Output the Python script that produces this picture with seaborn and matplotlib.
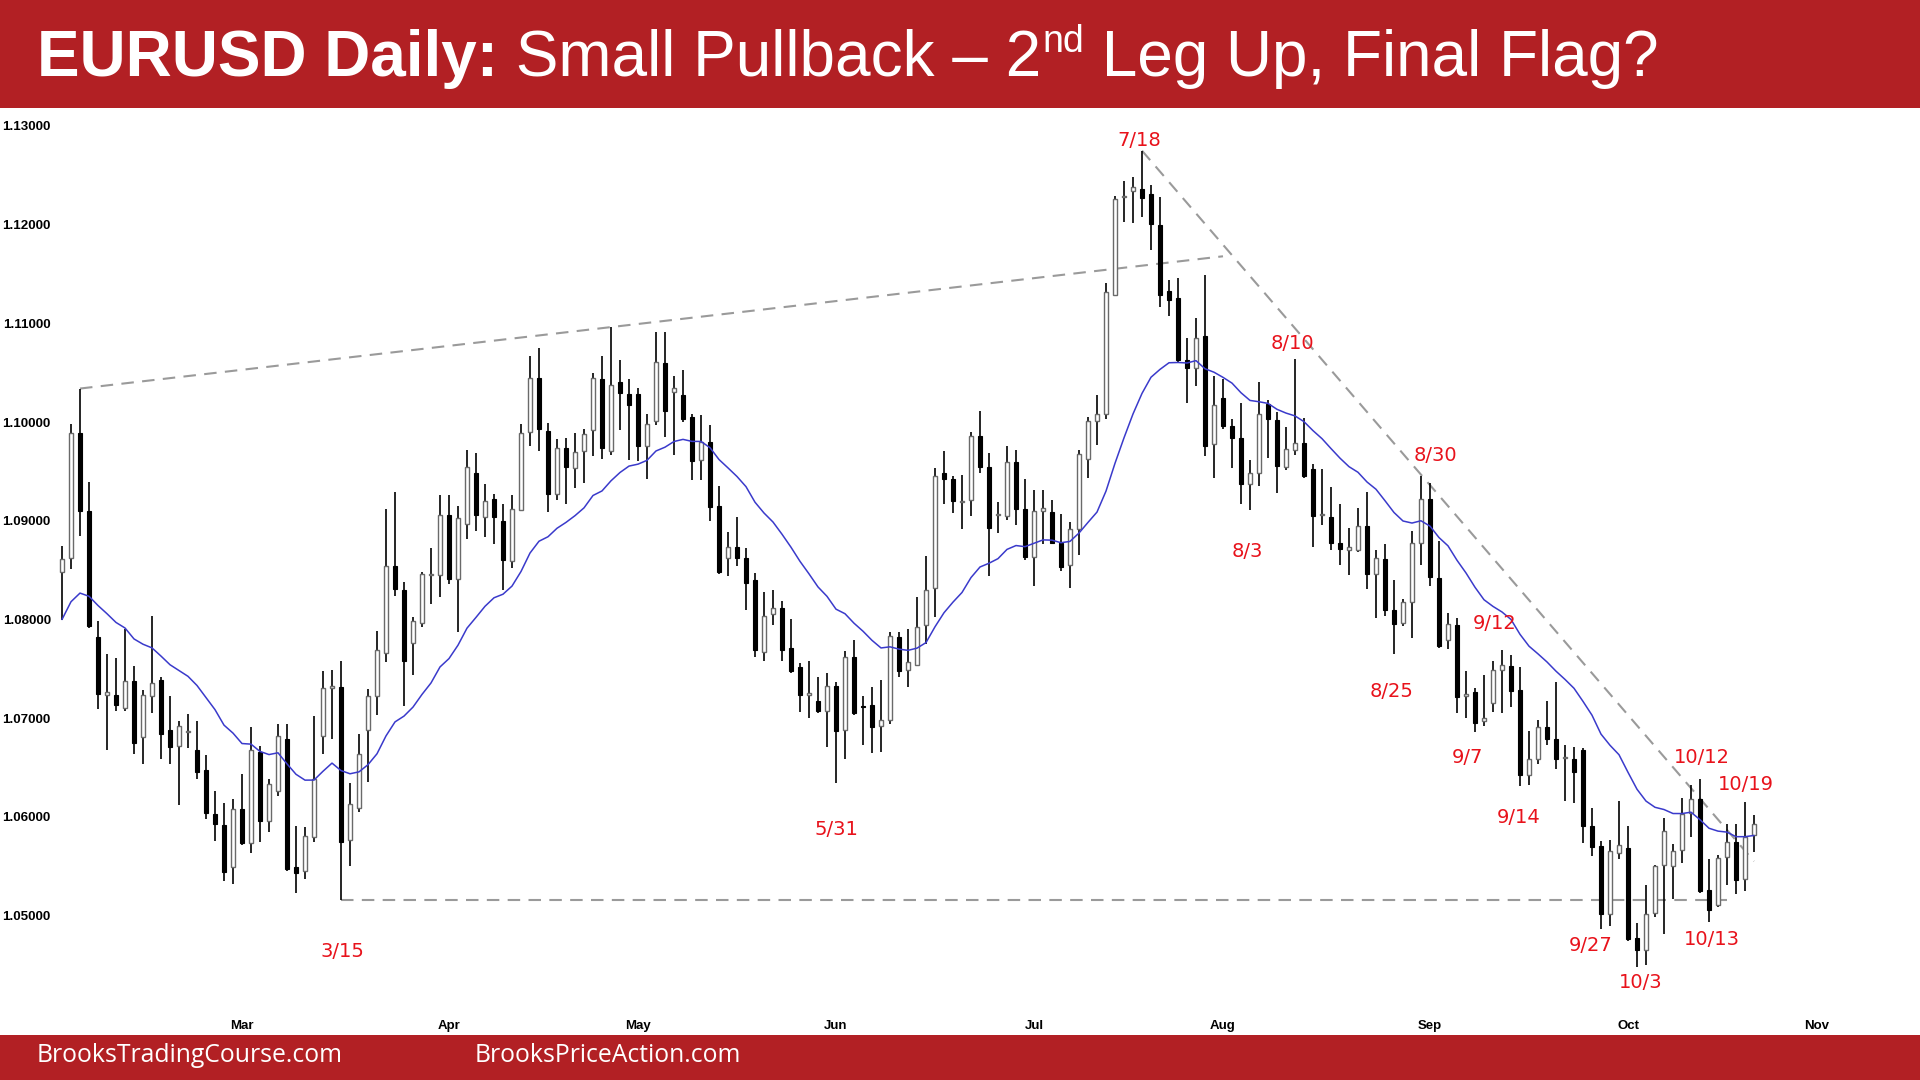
import numpy as np
import pandas as pd
import matplotlib
matplotlib.use("Agg")
import matplotlib.pyplot as plt
from matplotlib.patches import Rectangle
import seaborn as sns

# ---------------- data ----------------
start_date = "2023-01-31"
end_date = "2023-10-20"

opens = [1.0848, 1.0862, 1.0989, 1.0910, 1.0782, 1.0724, 1.0724, 1.0710, 1.0738, 1.0681,
         1.0722, 1.0739, 1.0688, 1.0672, 1.0686, 1.0668, 1.0648, 1.0603, 1.0592, 1.0549,
         1.0608, 1.0574, 1.0666, 1.0596, 1.0626, 1.0679, 1.0549, 1.0545, 1.0580, 1.0682,
         1.0731, 1.0732, 1.0577, 1.0609, 1.0688, 1.0722, 1.0766, 1.0854, 1.0830, 1.0776,
         1.0796, 1.0845, 1.0845, 1.0906, 1.0841, 1.0897, 1.0948, 1.0904, 1.0922, 1.0900,
         1.0859, 1.0911, 1.0990, 1.1045, 1.0991, 1.0927, 1.0974, 1.0954, 1.0971, 1.0992,
         1.1044, 1.0971, 1.1041, 1.1028, 1.1028, 1.0976, 1.1001, 1.1060, 1.1030, 1.1027,
         1.1005, 1.0962, 1.0980, 1.0915, 1.0862, 1.0873, 1.0862, 1.0840, 1.0767, 1.0806,
         1.0812, 1.0771, 1.0752, 1.0723, 1.0717, 1.0707, 1.0733, 1.0688, 1.0762, 1.0712,
         1.0713, 1.0692, 1.0698, 1.0782, 1.0749, 1.0754, 1.0794, 1.0832, 1.0948, 1.0942,
         1.0919, 1.0921, 1.0986, 1.0955, 1.0906, 1.0905, 1.0960, 1.0912, 1.0863, 1.0910,
         1.0909, 1.0878, 1.0855, 1.0892, 1.0963, 1.1001, 1.1008, 1.1129, 1.1228, 1.1234,
         1.1236, 1.1231, 1.1200, 1.1133, 1.1126, 1.1063, 1.1055, 1.1087, 1.0978, 1.1024,
         1.0996, 1.0984, 1.0937, 1.0948, 1.1018, 1.1002, 1.0955, 1.0972, 1.0979, 1.0952,
         1.0906, 1.0904, 1.0878, 1.0870, 1.0870, 1.0895, 1.0846, 1.0861, 1.0810, 1.0796,
         1.0818, 1.0878, 1.0922, 1.0842, 1.0779, 1.0794, 1.0722, 1.0727, 1.0697, 1.0715,
         1.0749, 1.0753, 1.0729, 1.0642, 1.0659, 1.0691, 1.0679, 1.0660, 1.0659, 1.0668,
         1.0591, 1.0571, 1.0502, 1.0563, 1.0568, 1.0477, 1.0465, 1.0503, 1.0551, 1.0550,
         1.0566, 1.0604, 1.0618, 1.0526, 1.0511, 1.0559, 1.0575, 1.0537, 1.0582]

highs = [1.0874, 1.0998, 1.1034, 1.0939, 1.0798, 1.0765, 1.0761, 1.0790, 1.0753, 1.0729,
         1.0804, 1.0742, 1.0722, 1.0697, 1.0704, 1.0697, 1.0663, 1.0626, 1.0614, 1.0618,
         1.0643, 1.0691, 1.0672, 1.0638, 1.0694, 1.0694, 1.0591, 1.0590, 1.0702, 1.0748,
         1.0749, 1.0758, 1.0634, 1.0684, 1.0730, 1.0788, 1.0912, 1.0929, 1.0838, 1.0803,
         1.0848, 1.0872, 1.0926, 1.0926, 1.0915, 1.0972, 1.0969, 1.0937, 1.0927, 1.0917,
         1.0926, 1.0998, 1.1067, 1.1075, 1.0999, 1.0983, 1.0984, 1.0989, 1.0993, 1.1050,
         1.1067, 1.1096, 1.1063, 1.1044, 1.1035, 1.1008, 1.1091, 1.1091, 1.1047, 1.1053,
         1.1008, 1.1007, 1.0997, 1.0935, 1.0889, 1.0904, 1.0872, 1.0847, 1.0828, 1.0830,
         1.0819, 1.0801, 1.0756, 1.0758, 1.0742, 1.0746, 1.0737, 1.0768, 1.0779, 1.0722,
         1.0732, 1.0739, 1.0787, 1.0787, 1.0790, 1.0823, 1.0864, 1.0953, 1.0971, 1.0945,
         1.0946, 1.0990, 1.1011, 1.0969, 1.0919, 1.0976, 1.0972, 1.0942, 1.0931, 1.0931,
         1.0921, 1.0907, 1.0899, 1.0972, 1.1005, 1.1027, 1.1141, 1.1229, 1.1244, 1.1248,
         1.1275, 1.1240, 1.1228, 1.1144, 1.1146, 1.1085, 1.1105, 1.1149, 1.1047, 1.1044,
         1.1003, 1.1019, 1.0962, 1.1041, 1.1022, 1.1010, 1.0995, 1.1064, 1.1004, 1.0958,
         1.0952, 1.0934, 1.0917, 1.0893, 1.0913, 1.0929, 1.0870, 1.0877, 1.0840, 1.0821,
         1.0890, 1.0945, 1.0938, 1.0880, 1.0807, 1.0802, 1.0748, 1.0731, 1.0744, 1.0758,
         1.0769, 1.0764, 1.0752, 1.0687, 1.0698, 1.0717, 1.0737, 1.0673, 1.0671, 1.0670,
         1.0609, 1.0576, 1.0577, 1.0616, 1.0591, 1.0492, 1.0531, 1.0551, 1.0599, 1.0573,
         1.0619, 1.0632, 1.0638, 1.0557, 1.0561, 1.0593, 1.0593, 1.0615, 1.0602]

lows = [1.0799, 1.0851, 1.0885, 1.0791, 1.0709, 1.0668, 1.0707, 1.0707, 1.0664, 1.0654,
        1.0705, 1.0659, 1.0654, 1.0612, 1.0670, 1.0638, 1.0598, 1.0576, 1.0535, 1.0532,
        1.0572, 1.0563, 1.0575, 1.0585, 1.0621, 1.0545, 1.0523, 1.0537, 1.0575, 1.0664,
        1.0679, 1.0516, 1.0550, 1.0605, 1.0635, 1.0703, 1.0757, 1.0824, 1.0712, 1.0744,
        1.0792, 1.0816, 1.0823, 1.0836, 1.0787, 1.0882, 1.0890, 1.0884, 1.0876, 1.0830,
        1.0852, 1.0910, 1.0976, 1.0971, 1.0909, 1.0921, 1.0917, 1.0933, 1.0938, 1.0966,
        1.0963, 1.0967, 1.0992, 1.0962, 1.0961, 1.0942, 1.0997, 1.0985, 1.0967, 1.1000,
        1.0941, 1.0941, 1.0900, 1.0846, 1.0844, 1.0854, 1.0810, 1.0762, 1.0758, 1.0794,
        1.0758, 1.0746, 1.0706, 1.0700, 1.0705, 1.0671, 1.0634, 1.0659, 1.0703, 1.0673,
        1.0665, 1.0666, 1.0694, 1.0742, 1.0732, 1.0754, 1.0775, 1.0803, 1.0917, 1.0908,
        1.0892, 1.0905, 1.0948, 1.0844, 1.0888, 1.0901, 1.0896, 1.0860, 1.0834, 1.0876,
        1.0876, 1.0849, 1.0832, 1.0865, 1.0943, 1.0977, 1.1003, 1.1129, 1.1203, 1.1202,
        1.1208, 1.1174, 1.1117, 1.1107, 1.1061, 1.1019, 1.1037, 1.0966, 1.0943, 1.0993,
        1.0953, 1.0917, 1.0911, 1.0935, 1.0964, 1.0928, 1.0951, 1.0967, 1.0943, 1.0873,
        1.0896, 1.0870, 1.0855, 1.0845, 1.0868, 1.0831, 1.0802, 1.0804, 1.0765, 1.0793,
        1.0781, 1.0855, 1.0834, 1.0771, 1.0770, 1.0705, 1.0700, 1.0686, 1.0692, 1.0706,
        1.0705, 1.0711, 1.0631, 1.0632, 1.0654, 1.0673, 1.0649, 1.0616, 1.0614, 1.0574,
        1.0560, 1.0486, 1.0489, 1.0557, 1.0474, 1.0448, 1.0450, 1.0499, 1.0481, 1.0517,
        1.0553, 1.0580, 1.0523, 1.0494, 1.0509, 1.0531, 1.0522, 1.0525, 1.0564]

closes = [1.0861, 1.0989, 1.0910, 1.0793, 1.0725, 1.0727, 1.0713, 1.0738, 1.0675, 1.0724,
          1.0736, 1.0684, 1.0671, 1.0692, 1.0687, 1.0645, 1.0604, 1.0593, 1.0544, 1.0608,
          1.0574, 1.0668, 1.0596, 1.0633, 1.0682, 1.0547, 1.0543, 1.0581, 1.0638, 1.0731,
          1.0733, 1.0575, 1.0613, 1.0664, 1.0722, 1.0769, 1.0854, 1.0831, 1.0758, 1.0798,
          1.0846, 1.0846, 1.0906, 1.0841, 1.0903, 1.0955, 1.0906, 1.0920, 1.0904, 1.0860,
          1.0912, 1.0989, 1.1045, 1.0993, 1.0927, 1.0974, 1.0955, 1.0970, 1.0988, 1.1045,
          1.0974, 1.1038, 1.1029, 1.1017, 1.0976, 1.0998, 1.1061, 1.1011, 1.1035, 1.1003,
          1.0961, 1.0980, 1.0914, 1.0848, 1.0873, 1.0862, 1.0837, 1.0769, 1.0804, 1.0812,
          1.0769, 1.0748, 1.0723, 1.0726, 1.0707, 1.0733, 1.0687, 1.0762, 1.0705, 1.0711,
          1.0691, 1.0698, 1.0783, 1.0748, 1.0757, 1.0792, 1.0830, 1.0945, 1.0942, 1.0920,
          1.0920, 1.0986, 1.0955, 1.0893, 1.0906, 1.0960, 1.0912, 1.0863, 1.0910, 1.0913,
          1.0878, 1.0853, 1.0892, 1.0968, 1.1001, 1.1008, 1.1132, 1.1226, 1.1229, 1.1238,
          1.1227, 1.1201, 1.1129, 1.1124, 1.1063, 1.1055, 1.1085, 1.0976, 1.1017, 1.0996,
          1.0984, 1.0937, 1.0948, 1.1008, 1.1003, 1.0956, 1.0973, 1.0979, 1.0945, 1.0905,
          1.0906, 1.0878, 1.0871, 1.0873, 1.0895, 1.0846, 1.0862, 1.0810, 1.0795, 1.0818,
          1.0878, 1.0922, 1.0843, 1.0773, 1.0795, 1.0721, 1.0725, 1.0695, 1.0700, 1.0749,
          1.0754, 1.0728, 1.0642, 1.0659, 1.0691, 1.0679, 1.0659, 1.0660, 1.0645, 1.0591,
          1.0570, 1.0502, 1.0565, 1.0572, 1.0476, 1.0465, 1.0502, 1.0550, 1.0586, 1.0565,
          1.0603, 1.0618, 1.0525, 1.0506, 1.0558, 1.0575, 1.0536, 1.0580, 1.0593]

ema_period = 20
ema_seed = 1.0800          # value of the moving average on the first bar

ytick_values = [1.05, 1.06, 1.07, 1.08, 1.09, 1.10, 1.11, 1.12, 1.13]
month_labels = ["Mar", "Apr", "May", "Jun", "Jul", "Aug", "Sep", "Oct", "Nov"]
month_tick_dates = ["2023-02-28", "2023-03-31", "2023-05-01", "2023-05-31", "2023-06-30",
                    "2023-07-31", "2023-08-31", "2023-10-02", "2023-10-31"]

# dashed trend lines: (start date, start price, end date, end price)
trend_lines = [
    ("2023-02-02", 1.1034, "2023-07-31", 1.1168),
    ("2023-07-18", 1.1275, "2023-10-20", 1.0555),
    ("2023-03-15", 1.0516, "2023-10-17", 1.0516),
]

swing_labels = ["3/15", "5/31", "7/18", "8/3", "8/10", "8/25", "8/30", "9/7", "9/12",
                "9/14", "9/27", "10/3", "10/12", "10/13", "10/19"]
# label anchor (bar position, price)
swing_label_pos = [(31.2, 1.0464), (86.0, 1.0587), (119.7, 1.1285), (131.7, 1.0869),
                   (136.7, 1.1080), (147.7, 1.0727), (152.6, 1.0966), (156.2, 1.0660),
                   (159.2, 1.0796), (161.8, 1.0599), (169.9, 1.0470), (175.4, 1.0432),
                   (182.2, 1.0660), (183.3, 1.0476), (187.1, 1.0633)]

title_bold = "EURUSD Daily:"
title_part1 = " Small Pullback \u2013 2"
title_sup = "nd"
title_part2 = " Leg Up, Final Flag?"
footer_left = "BrooksTradingCourse.com"
footer_mid = "BrooksPriceAction.com"

# ---------------- build ----------------
dates = pd.bdate_range(start_date, end_date)
n = len(dates)
ext_dates = pd.bdate_range(start_date, "2023-11-30")
d2i = {d.strftime("%Y-%m-%d"): i for i, d in enumerate(ext_dates)}

df = pd.DataFrame({"date": dates, "open": opens, "high": highs,
                   "low": lows, "close": closes})
df["i"] = np.arange(n)

alpha = 2.0 / (ema_period + 1)
ema = [ema_seed]
for c in closes[1:]:
    ema.append(ema[-1] + alpha * (c - ema[-1]))
df["ema"] = ema

sns.set_theme(style="white")
plt.rcParams["font.family"] = ["DejaVu Sans"]

W, H = 1920, 1080
fig = plt.figure(figsize=(W / 100, H / 100), dpi=100)
fig.patch.set_facecolor("white")

ax_left, ax_right = 55, 1865
ax_top, ax_bot = 110, 1010
ax = fig.add_axes([ax_left / W, 1 - ax_bot / H, (ax_right - ax_left) / W, (ax_bot - ax_top) / H])
px_per_bar = 9.0
xmin = -(62 - ax_left) / px_per_bar
ax.set_xlim(xmin, xmin + (ax_right - ax_left) / px_per_bar)
px_per_unit = 9870.0
ax.set_ylim(1.13 - (ax_bot - 126) / px_per_unit, 1.13 + (126 - ax_top) / px_per_unit)
ax.set_facecolor("white")
for s in ax.spines.values():
    s.set_visible(False)

# trend lines
for (d0, p0, d1, p1) in trend_lines:
    ax.plot([d2i[d0], d2i[d1]], [p0, p1], color="#9a9a9a", lw=1.5,
            linestyle=(0, (6, 4)), zorder=1)

# wicks
ax.vlines(df["i"], df["low"], df["high"], color="black", lw=1.2, zorder=2)

# bodies
up = df["close"] >= df["open"]
body_lo = np.minimum(df["open"], df["close"])
body_h = np.maximum(np.abs(df["close"] - df["open"]), 0.00004)
ax.bar(df["i"][up], body_h[up], bottom=body_lo[up], width=0.55,
       color="white", edgecolor="#6a6a6a", linewidth=1.0, zorder=3)
ax.bar(df["i"][~up], body_h[~up], bottom=body_lo[~up], width=0.55,
       color="black", edgecolor="black", linewidth=0.8, zorder=3)

# moving average
sns.lineplot(data=df, x="i", y="ema", color="#3a3acb", linewidth=1.1, ax=ax, zorder=4)

# swing labels
for lab, (xp, yp) in zip(swing_labels, swing_label_pos):
    ax.text(xp, yp, lab, color="#e8121b", fontsize=14, ha="center", va="center",
            family="DejaVu Sans", zorder=6)

# axes ticks
tick_font = ["Liberation Sans", "DejaVu Sans"]
ax.set_yticks(ytick_values)
ax.set_yticklabels([f"{v:.5f}" for v in ytick_values], fontsize=9.6,
                   fontweight="bold", color="black", family=tick_font)
ax.set_xticks([d2i[d] for d in month_tick_dates])
ax.set_xticklabels(month_labels, fontsize=9.5, fontweight="bold", color="black",
                   family=tick_font)
ax.tick_params(axis="both", length=0)
ax.tick_params(axis="y", pad=3)
ax.tick_params(axis="x", pad=7)
ax.set_xlabel("")
ax.set_ylabel("")
ax.grid(False)

# title bar and footer bar
bar_color = "#b22024"
fig.patches.append(Rectangle((0, 1 - 108 / H), 1, 108 / H, transform=fig.transFigure,
                             facecolor=bar_color, edgecolor="none", zorder=0))
fig.patches.append(Rectangle((0, 0), 1, 45 / H, transform=fig.transFigure,
                             facecolor=bar_color, edgecolor="none", zorder=0))

base_y = 1 - 76 / H
fig.canvas.draw()
renderer = fig.canvas.get_renderer()
t = fig.text(37 / W, base_y, title_bold, fontsize=46, fontweight="bold",
             family=["Liberation Sans", "DejaVu Sans"], color="white", va="baseline")
x_next = t.get_window_extent(renderer).x1
t = fig.text(x_next / W, base_y, title_part1, fontsize=46,
             family=["Liberation Sans", "DejaVu Sans"], color="white", va="baseline")
x_next = t.get_window_extent(renderer).x1
t = fig.text(x_next / W + 1 / W, base_y + 24 / H, title_sup, fontsize=27,
             family=["Liberation Sans", "DejaVu Sans"], color="white", va="baseline")
x_next = t.get_window_extent(renderer).x1
fig.text(x_next / W, base_y, title_part2, fontsize=46,
         family=["Liberation Sans", "DejaVu Sans"], color="white", va="baseline")

fig.text(37 / W, 25 / H, footer_left, fontsize=17.8, family=["Open Sans", "DejaVu Sans"],
         color="white", va="center", ha="left")
fig.text(475 / W, 25 / H, footer_mid, fontsize=17.8, family=["Open Sans", "DejaVu Sans"],
         color="white", va="center", ha="left")

fig.savefig("out.png", dpi=100, facecolor="white")
